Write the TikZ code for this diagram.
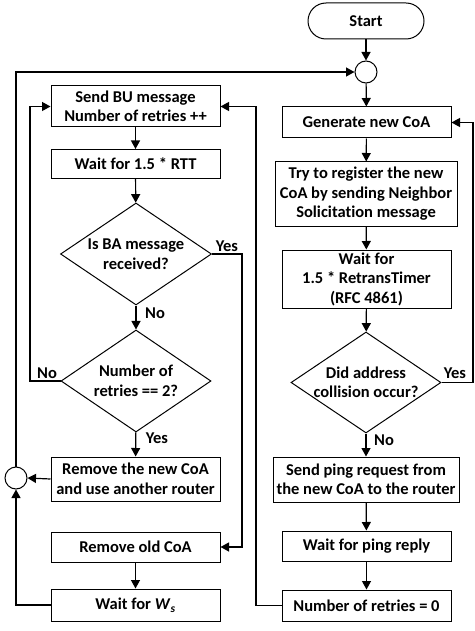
\documentclass[tikz,border=0pt]{standalone}
\usepackage{fontspec}
\setmainfont{Carlito}[Ligatures=NoCommon]
\usetikzlibrary{shapes.geometric,arrows.meta}
\begin{document}
\begin{tikzpicture}[x=1pt,y=-1pt,
  every node/.style={font=\bfseries\fontsize{16.5}{19.5}\selectfont, inner sep=0pt, align=center},
  box/.style={draw, line width=1pt, rectangle},
  dec/.style={draw, line width=1pt, diamond, inner sep=-16pt},
  junction/.style={draw, line width=1pt, circle, minimum size=22pt},
  term/.style={draw, line width=1pt, rectangle, rounded corners=18pt, minimum width=116pt, minimum height=36pt},
  lbl/.style={font=\bfseries\fontsize{16.5}{19}\selectfont},
  conn/.style={line width=1.2pt, -{Triangle[length=8.5pt,width=9pt]}},
  plain/.style={line width=1.2pt}]
\useasboundingbox (0,0) rectangle (474,631);
% right column
\node[term] (start) at (366,21) {Start};
\node[junction] (c1) at (366,72) {};
\node[box, minimum width=169pt, minimum height=31pt] (gen) at (366.5,122.5) {Generate new CoA};
\node[box, minimum width=182pt, minimum height=64pt] (tryreg) at (366,194) {Try to register the new\\CoA by sending Neighbor\\Solicitation message};
\node[box, minimum width=169pt, minimum height=58pt] (waitrt) at (366.5,279) {Wait for\\1.5 * RetransTimer\\(RFC 4861)};
\node[dec, minimum width=150pt, minimum height=101pt] (d3) at (366,382.5) {Did address\\collision occur?};
\node[box, minimum width=186pt, minimum height=45pt] (ping) at (366,479.5) {Send ping request from\\the new CoA to the router};
\node[box, minimum width=169pt, minimum height=30pt] (waitping) at (366.5,546) {Wait for ping reply};
\node[box, minimum width=169pt, minimum height=31pt] (nretries) at (366.5,605.5) {Number of retries = 0};
% left column
\node[box, minimum width=169pt, minimum height=41pt] (sendbu) at (135.5,106.5) {Send BU message\\Number of retries ++};
\node[box, minimum width=169pt, minimum height=29pt] (wait1) at (135.5,164) {Wait for 1.5 * RTT};
\node[dec, minimum width=151pt, minimum height=102pt] (d1) at (136,254) {Is BA message\\received?};
\node[dec, minimum width=150pt, minimum height=102pt] (d2) at (136,381) {Number of\\retries == 2?};
\node[box, minimum width=169pt, minimum height=44pt] (remnew) at (135.5,479) {Remove the new CoA\\and use another router};
\node[box, minimum width=169pt, minimum height=30pt] (remold) at (135.5,547) {Remove old CoA};
\node[box, minimum width=169pt, minimum height=32pt] (waitws) at (135.5,605) {Wait for \textit{W}\textsubscript{\textit{s}}};
\node[junction] (c2) at (16,478) {};
% labels
\node[lbl] (l1) at (227,246) {Yes};
\node[lbl] (l2) at (155,313) {No};
\node[lbl] (l3) at (47,373) {No};
\node[lbl] (l4) at (157,438) {Yes};
\node[lbl] (l5) at (455,373) {Yes};
\node[lbl] (l6) at (384,440) {No};
% helper coordinates
\coordinate (r1) at (256,605.5);
\coordinate (r2) at (256,106.5);
\coordinate (y1) at (242,254);
\coordinate (y2) at (242,547);
\coordinate (n1) at (30,381);
\coordinate (n2) at (30,106.5);
\coordinate (w1) at (16,605);
\coordinate (t1) at (16,72);
\coordinate (e1) at (473,382.5);
\coordinate (e2) at (473,122.5);
% connectors
\draw[conn] (start) -- (c1);
\draw[conn] (c1) -- (gen);
\draw[conn] (gen) -- (tryreg);
\draw[conn] (tryreg) -- (waitrt);
\draw[conn] (waitrt) -- (d3);
\draw[conn] (d3) -- (ping);
\draw[conn] (ping) -- (waitping);
\draw[conn] (waitping) -- (nretries);
\draw[conn] (nretries.west) -- (r1) -- (r2) -- (sendbu.east);
\draw[conn] (sendbu) -- (wait1);
\draw[conn] (wait1) -- (d1);
\draw[conn] (d1) -- (d2);
\draw[conn] (d1.east) -- (y1) -- (y2) -- (remold.east);
\draw[conn] (d2.west) -- (n1) -- (n2) -- (sendbu.west);
\draw[conn] (d2) -- (remnew);
\draw[conn] (remnew.west) -- (c2.east);
\draw[conn] (remold) -- (waitws);
\draw[conn] (waitws.west) -- (w1) -- (c2.south);
\draw[conn] (c2.north) -- (t1) -- (c1.west);
\draw[conn] (d3.east) -- (e1) -- (e2) -- (gen.east);
\end{tikzpicture}
\end{document}
